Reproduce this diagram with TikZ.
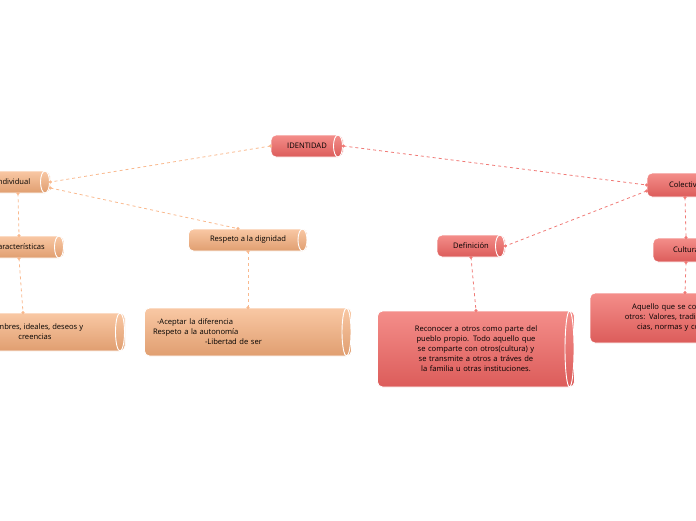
\documentclass[tikz,border=0pt]{standalone}
\usepackage{fontspec}
\setmainfont{Open Sans}
\usetikzlibrary{calc}
\definecolor{rtop}{HTML}{F48E8A}
\definecolor{rbot}{HTML}{DC5C5A}
\definecolor{otop}{HTML}{F9C8A4}
\definecolor{obot}{HTML}{E09E70}
\definecolor{rline}{HTML}{F07A76}
\definecolor{oline}{HTML}{F9B98E}
\tikzset{
 cyl/.style={draw=white, line width=0.8pt, rounded corners=5pt, font=\fontsize{7.6}{10}\selectfont, align=center, inner xsep=6pt,
   path picture={\draw[white,line width=0.9pt] let \p1=(path picture bounding box.north east), \p2=(path picture bounding box.south east), \n1={abs(\y1-\y2)/2} in ([xshift=-5pt]$(\p1)!0.5!(\p2)$) ellipse [x radius=4.5pt, y radius=\n1];}},
 redc/.style={cyl, top color=rtop, bottom color=rbot},
 orac/.style={cyl, top color=otop, bottom color=obot},
 rl/.style={draw=rline, dashed, line width=0.8pt},
 ol/.style={draw=oline, dashed, line width=0.8pt},
 dotr/.style={fill=rline, circle, inner sep=1.2pt},
 doto/.style={fill=oline, circle, inner sep=1.2pt},
}
\begin{document}
\begin{tikzpicture}[x=1pt,y=1pt]
\useasboundingbox (0,0) rectangle (696,-520);
\clip (0,0) rectangle (696,-520);
\node[redc, minimum width=72pt, minimum height=22pt] (id) at (307,-146) {IDENTIDAD};
\node[orac, minimum width=74pt, minimum height=22pt] (ind) at (13,-182) {Individual};
\node[orac, minimum width=90pt, minimum height=22pt] (car) at (19,-247) {Características};
\node[orac, minimum width=180pt, minimum height=38pt] (nom) at (35,-332) {Nombres, ideales, deseos y\\creencias};
\node[orac, minimum width=119pt, minimum height=22pt] (res) at (248,-240) {Respeto a la dignidad};
\node[orac, minimum width=207pt, minimum height=48pt, align=left, text width=190pt] (ace) at (248,-332) {\hspace*{4pt}-Aceptar la diferencia\\Respeto a la autonomía\\\hspace*{52pt}-Libertad de ser};
\node[redc, minimum width=68pt, minimum height=22pt] (def) at (471,-246) {Definición};
\node[redc, minimum width=197pt, minimum height=76pt, text width=150pt] (rec) at (476,-349) {Reconocer a otros como parte del pueblo propio. Todo aquello que se comparte con otros(cultura) y se transmite a otros a tráves de la familia u otras instituciones.};
\node[redc, minimum width=76pt, minimum height=24pt] (col) at (685,-185) {Colectiva};
\node[redc, minimum width=66pt, minimum height=24pt] (cul) at (686,-250) {Cultura};
\node[redc, minimum width=190pt, minimum height=50pt, text width=150pt] (aqu) at (685,-318) {Aquello que se comparte con otros: Valores, tradiciones, creencias, normas y costumbres};
% connectors
\draw[ol] (id.west) -- (ind.east) node[pos=0,doto]{} node[pos=1,doto]{};
\draw[ol] ([yshift=-6pt]ind.east) -- ([xshift=-10pt]res.north) node[pos=0,doto]{} node[pos=1,doto]{};
\draw[ol] ([xshift=5pt]ind.south) -- (car.north) node[pos=0,doto]{} node[pos=1,doto]{};
\draw[ol] (car.south) -- ([xshift=-12pt]nom.north) node[pos=0,doto]{} node[pos=1,doto]{};
\draw[ol] (res.south) -- (ace.north) node[pos=0,doto]{} node[pos=1,doto]{};
\draw[rl] (id.east) -- (col.west) node[pos=0,dotr]{} node[pos=1,dotr]{};
\draw[rl] ([yshift=-6pt]col.west) -- (def.east) node[pos=0,dotr]{} node[pos=1,dotr]{};
\draw[rl] (col.south) -- (cul.north) node[pos=0,dotr]{} node[pos=1,dotr]{};
\draw[rl] (cul.south) -- (aqu.north) node[pos=0,dotr]{} node[pos=1,dotr]{};
\draw[rl] (def.south) -- (rec.north) node[pos=0,dotr]{} node[pos=1,dotr]{};
\end{tikzpicture}
\end{document}
